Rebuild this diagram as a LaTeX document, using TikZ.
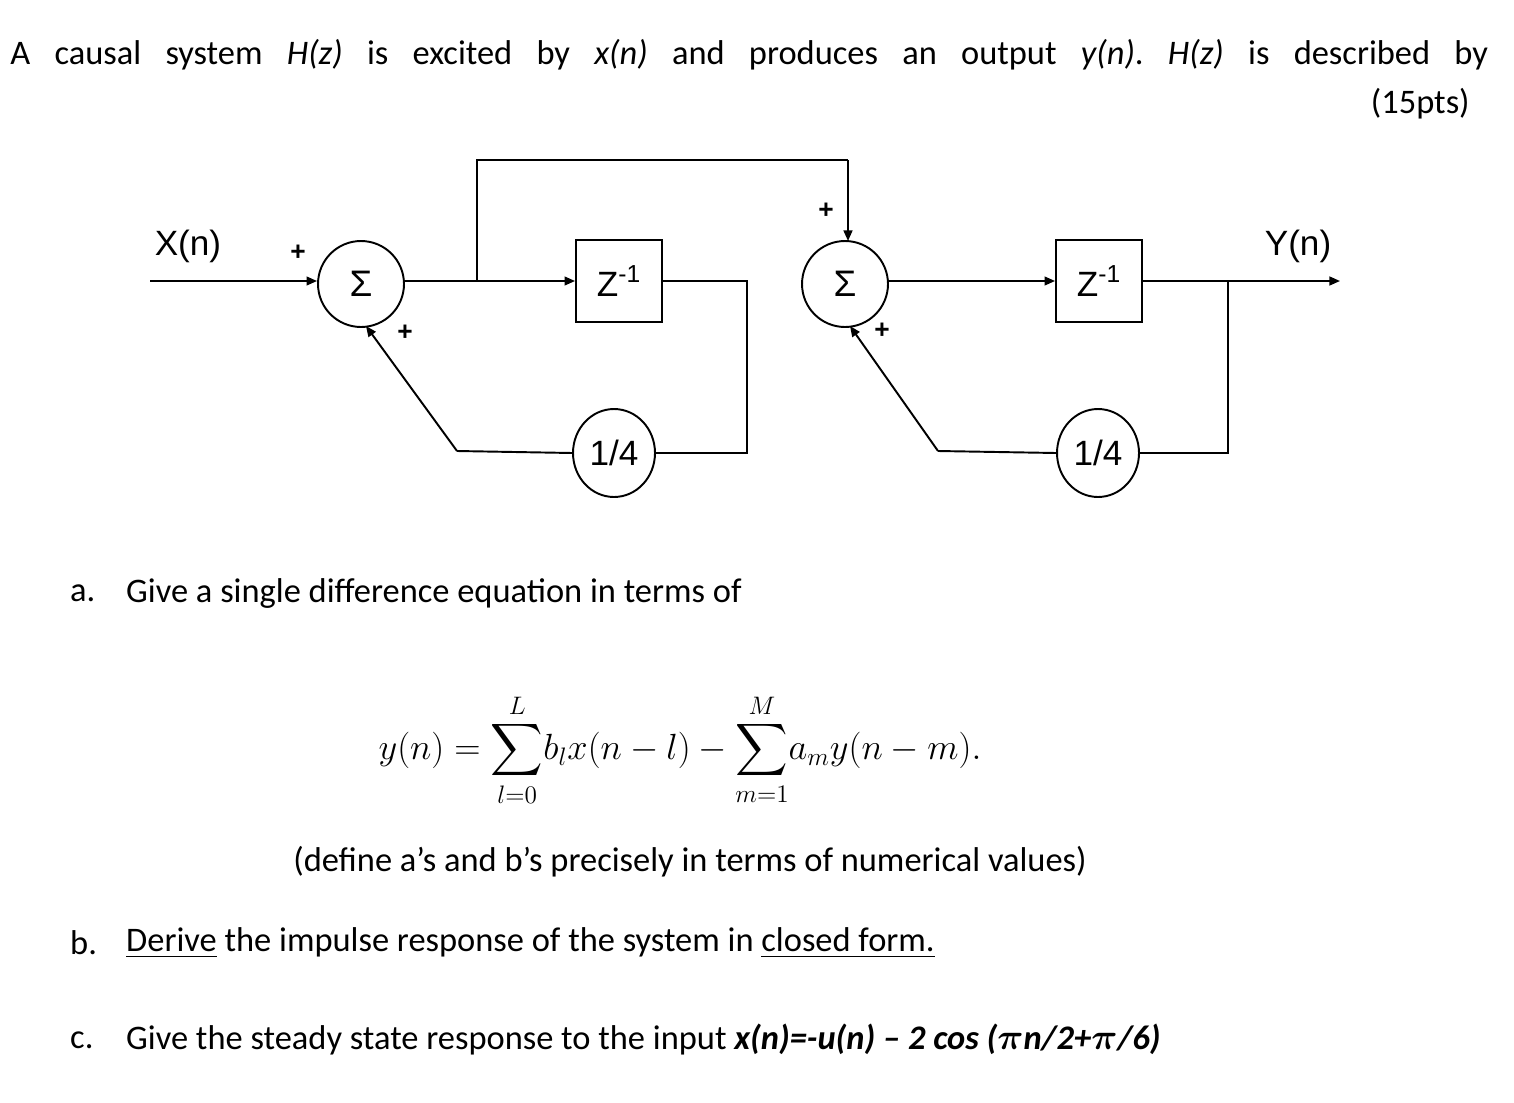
\documentclass[tikz,border=0pt]{standalone}
\usepackage{fontspec}
\usepackage{amsmath,bm}
\setmainfont{Carlito}
\newfontfamily\arialf{Liberation Sans}
\usetikzlibrary{arrows.meta,shapes.geometric}
\begin{document}
\begin{tikzpicture}[x=0.02cm,y=-0.02cm,
  ln/.style={line width=1.1pt},
  ar/.style={ln,-{Triangle[length=6pt,width=5pt]}},
  sum/.style={circle,draw,line width=1.1pt,minimum size=1.72cm,inner sep=0pt,font=\arialf\fontsize{21}{24}\selectfont},
  gain/.style={ellipse,draw,line width=1.1pt,minimum width=1.64cm,minimum height=1.76cm,inner sep=0pt,font=\arialf\fontsize{20}{22}\selectfont},
  dly/.style={rectangle,draw,line width=1.1pt,minimum width=1.72cm,minimum height=1.64cm,inner sep=0pt,font=\arialf\fontsize{20}{22}\selectfont},
  lab/.style={font=\arialf\fontsize{20}{22}\selectfont},
  pl/.style={font=\arialf\bfseries\fontsize{15}{17}\selectfont},
  txt/.style={font=\fontsize{19.6}{23}\selectfont,anchor=west}]
\useasboundingbox (0,0) rectangle (1514,1102);
% title
\node[anchor=west,inner sep=0pt,font=\fontsize{19.6}{23}\selectfont] (title) at (10,55) {\makebox[29.56cm][s]{A\hfill causal\hfill system\hfill \emph{H(z)}\hfill is\hfill excited\hfill by\hfill \emph{x(n)}\hfill and\hfill produces\hfill an\hfill output\hfill \emph{y(n)}.\hfill \emph{H(z)}\hfill is\hfill described\hfill by}};
\node[anchor=east,inner sep=0pt,font=\fontsize{19.6}{23}\selectfont] (pts) at (1470,104) {(15pts)};
% diagram
\node[sum] (s1) at (361,284) {Σ};
\node[sum] (s2) at (845,284) {Σ};
\node[dly] (z1) at (619,281) {Z\textsuperscript{-1}};
\node[dly] (z2) at (1099,281) {Z\textsuperscript{-1}};
\node[gain] (g1) at (614,453) {1/4};
\node[gain] (g2) at (1098,453) {1/4};
\coordinate (in) at (150,281);
\coordinate (br) at (477,281);
\coordinate (tl) at (477,160);
\coordinate (tr) at (848,160);
\coordinate (out) at (1340,281);
\coordinate (o1) at (747,281);
\coordinate (o2) at (1228,281);
\coordinate (f1) at (457,451);
\coordinate (f2) at (938,451);
\draw[ar] (in) -- (s1.west |- in);
\draw[ar] (s1.east |- br) -- (z1.west);
\draw[ln] (br) -- (tl) -- (tr);
\draw[ar] (tr) -- (848,241);
\draw[ln] (z1.east) -- (o1) -- (o1 |- g1) -- (g1.east);
\draw[ln] (g1.west) -- (f1);
\draw[ar] (f1) -- (366,326);
\draw[ar] (s2.east |- br) -- (z2.west);
\draw[ar] (z2.east) -- (out);
\draw[ln] (o2) -- (o2 |- g2) -- (g2.east);
\draw[ln] (g2.west) -- (f2);
\draw[ar] (f2) -- (850,326);
\node[lab] (xl) at (188,246) {X(n)};
\node[lab] (yl) at (1298,246) {Y(n)};
\node[pl] (p1) at (298,253) {+};
\node[pl] (p2) at (405,333) {+};
\node[pl] (p3) at (826,211) {+};
\node[pl] (p4) at (882,331) {+};
% questions
\node[txt] (qa) at (64,593) {a.};
\node[txt] (ta) at (120,593) {Give a single difference equation in terms of};
\node[font=\fontsize{20}{24}\selectfont] (eq) at (680,750) {$\displaystyle y(n)=\sum_{l=0}^{L}\! b_l x(n-l)-\sum_{m=1}^{M}\! a_m y(n-m).$};
\node[font=\fontsize{19.6}{23}\selectfont] (def) at (690,862) {(define a’s and b’s precisely in terms of numerical values)};
\node[txt] (qb) at (64,943) {b.};
\node[txt] (tb) at (120,943) {\underline{Derive} the impulse response of the system in \underline{closed form.}};
\node[txt] (qc) at (64,1040) {c.};
\node[txt] (tc) at (120,1040) {Give the steady state response to the input \textbf{\emph{x(n)=-u(n) – 2 cos ($\bm{\pi}$n/2+$\bm{\pi}$/6)}}};
\end{tikzpicture}
\end{document}
